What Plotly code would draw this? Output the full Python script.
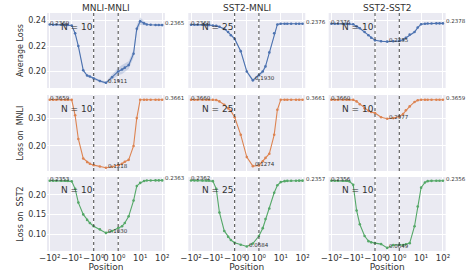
import numpy as np
import plotly.graph_objects as go

# ---------------- data ----------------
positions = [-100, -70, -50, -30, -20, -15, -10, -7, -5, -3, -2, -1.5, -1, -0.5, 0,
             0.5, 1, 1.5, 2, 3, 5, 7, 10, 15, 20, 30, 50, 70, 100]

col_titles = ["MNLI-MNLI", "SST2-MNLI", "SST2-SST2"]
row_titles = ["Average Loss", "Loss on  MNLI", "Loss on  SST2"]
n_labels = ["N = 10", "N = 25", "N = 10"]

x_tick_values = [-100, -10, -1, 0, 1, 10, 100]
x_tick_text = ["\u221210\u00b2", "\u221210\u00b9", "\u221210\u2070", "0", "10\u2070", "10\u00b9", "10\u00b2"]

avg_mnli_mnli = [0.2369, 0.2368, 0.2369, 0.2367, 0.2368, 0.2366, 0.2362, 0.2300, 0.2200, 0.2010,
                 0.1968, 0.1960, 0.1945, 0.1925, 0.1911, 0.1955, 0.2000, 0.2015, 0.2030, 0.2050,
                 0.2140, 0.2336, 0.2395, 0.2378, 0.2370, 0.2367, 0.2366, 0.2366, 0.2365]
avg_sst2_mnli = [0.2368, 0.2368, 0.2367, 0.2367, 0.2366, 0.2365, 0.2362, 0.2360, 0.2352, 0.2335,
                 0.2310, 0.2285, 0.2256, 0.2160, 0.2000, 0.1930, 0.1970, 0.2000, 0.2040, 0.2150,
                 0.2300, 0.2370, 0.2376, 0.2376, 0.2376, 0.2376, 0.2376, 0.2376, 0.2376]
avg_sst2_sst2 = [0.2376, 0.2376, 0.2375, 0.2376, 0.2375, 0.2374, 0.2372, 0.2355, 0.2340, 0.2310,
                 0.2285, 0.2265, 0.2245, 0.2238, 0.2235, 0.2238, 0.2240, 0.2250, 0.2265, 0.2290,
                 0.2310, 0.2345, 0.2372, 0.2375, 0.2377, 0.2377, 0.2378, 0.2378, 0.2378]

band_mnli_mnli = [0.0004, 0.0004, 0.0004, 0.0004, 0.0004, 0.0004, 0.0006, 0.0010, 0.0012, 0.0010,
                  0.0008, 0.0008, 0.0008, 0.0010, 0.0010, 0.0020, 0.0030, 0.0035, 0.0035, 0.0030,
                  0.0030, 0.0030, 0.0030, 0.0015, 0.0008, 0.0005, 0.0004, 0.0004, 0.0004]
band_sst2_mnli = [0.0003, 0.0003, 0.0003, 0.0003, 0.0003, 0.0003, 0.0004, 0.0005, 0.0006, 0.0006,
                  0.0006, 0.0008, 0.0008, 0.0010, 0.0010, 0.0012, 0.0015, 0.0015, 0.0015, 0.0012,
                  0.0010, 0.0008, 0.0005, 0.0004, 0.0003, 0.0003, 0.0003, 0.0003, 0.0003]
band_sst2_sst2 = [0.0003, 0.0003, 0.0003, 0.0003, 0.0003, 0.0003, 0.0004, 0.0005, 0.0005, 0.0005,
                  0.0005, 0.0005, 0.0005, 0.0005, 0.0005, 0.0005, 0.0005, 0.0005, 0.0005, 0.0005,
                  0.0005, 0.0005, 0.0004, 0.0003, 0.0003, 0.0003, 0.0003, 0.0003, 0.0003]

mnli_mnli_mnli = [0.3659, 0.3659, 0.3659, 0.3659, 0.3659, 0.3659, 0.3655, 0.3100, 0.2250, 0.1550,
                  0.1420, 0.1360, 0.1310, 0.1260, 0.1218, 0.1250, 0.1310, 0.1360, 0.1430, 0.1500,
                  0.2000, 0.3000, 0.3661, 0.3661, 0.3661, 0.3661, 0.3661, 0.3661, 0.3661]
mnli_sst2_mnli = [0.3660, 0.3660, 0.3660, 0.3660, 0.3660, 0.3659, 0.3658, 0.3650, 0.3600, 0.3480,
                  0.3350, 0.3260, 0.3030, 0.2400, 0.1600, 0.1274, 0.1300, 0.1450, 0.1570, 0.1720,
                  0.2400, 0.3300, 0.3661, 0.3661, 0.3661, 0.3661, 0.3661, 0.3661, 0.3661]
mnli_sst2_sst2 = [0.3660, 0.3660, 0.3660, 0.3660, 0.3660, 0.3659, 0.3655, 0.3600, 0.3500, 0.3350,
                  0.3260, 0.3220, 0.3180, 0.3030, 0.2977, 0.3000, 0.3060, 0.3150, 0.3280, 0.3420,
                  0.3580, 0.3640, 0.3658, 0.3659, 0.3659, 0.3659, 0.3659, 0.3659, 0.3659]

sst2_mnli_mnli = [0.2353, 0.2353, 0.2353, 0.2353, 0.2353, 0.2352, 0.2340, 0.2150, 0.1800, 0.1500,
                  0.1360, 0.1280, 0.1200, 0.1120, 0.1030, 0.1080, 0.1150, 0.1200, 0.1280, 0.1450,
                  0.1850, 0.2220, 0.2300, 0.2350, 0.2360, 0.2362, 0.2363, 0.2363, 0.2363]
sst2_sst2_mnli = [0.2362, 0.2362, 0.2362, 0.2362, 0.2361, 0.2360, 0.2345, 0.2150, 0.1550, 0.1080,
                  0.0930, 0.0850, 0.0780, 0.0730, 0.0684, 0.0760, 0.0950, 0.1150, 0.1380, 0.1650,
                  0.2050, 0.2240, 0.2320, 0.2345, 0.2352, 0.2355, 0.2356, 0.2357, 0.2357]
sst2_sst2_sst2 = [0.2356, 0.2356, 0.2356, 0.2355, 0.2354, 0.2340, 0.2250, 0.1600, 0.1250, 0.0950,
                  0.0820, 0.0790, 0.0770, 0.0745, 0.0649, 0.0720, 0.0730, 0.0720, 0.0740, 0.0770,
                  0.1200, 0.1700, 0.2180, 0.2310, 0.2345, 0.2352, 0.2355, 0.2356, 0.2356]

values = [[avg_mnli_mnli, avg_sst2_mnli, avg_sst2_sst2],
          [mnli_mnli_mnli, mnli_sst2_mnli, mnli_sst2_sst2],
          [sst2_mnli_mnli, sst2_sst2_mnli, sst2_sst2_sst2]]
bands = [band_mnli_mnli, band_sst2_mnli, band_sst2_sst2]

y_ticks = [[0.20, 0.22, 0.24], [0.20, 0.30], [0.10, 0.15, 0.20]]
y_ranges = [[0.187, 0.246], [0.110, 0.383], [0.057, 0.245]]

# ---------------- styling ----------------
W, H = 474, 273
FONT = "DejaVu Sans"
TXT = "#333333"
colors = ["#4C72B0", "#DD8452", "#55A868"]
band_color = "rgba(76,114,176,0.22)"
col_px = [(40, 161), (185, 305), (329, 449)]
row_px = [(13, 88), (95, 171), (177, 251)]


def symlog(v, linthresh=1.0, linscale=0.5):
    v = np.asarray(v, dtype=float)
    adj = linscale / (1 - 1 / 10)
    out = np.where(np.abs(v) <= linthresh, v * adj,
                   np.sign(v) * linthresh * (adj + np.log10(np.maximum(np.abs(v), 1e-12) / linthresh)))
    return out


tx = symlog(positions)
tick_tx = symlog(x_tick_values)
XR = [-2.68, 2.68]

fig = go.Figure()
layout = dict(width=W, height=H, margin=dict(l=0, r=0, t=0, b=0),
              paper_bgcolor="white", plot_bgcolor="#EAEAF2", showlegend=False,
              font=dict(family=FONT, color=TXT, size=8))
annotations = []
shapes = []

for r in range(3):
    for c in range(3):
        i = r * 3 + c + 1
        sfx = "" if i == 1 else str(i)
        xref, yref = "x" + sfx, "y" + sfx
        x0, x1 = col_px[c]
        y0, y1 = row_px[r]
        layout["xaxis" + sfx] = dict(
            domain=[x0 / W, x1 / W], anchor=yref, range=XR,
            tickvals=list(tick_tx), ticktext=x_tick_text, tickangle=0,
            showticklabels=(r == 2), ticks="", showgrid=True, gridcolor="white",
            gridwidth=1, zeroline=False, showline=False,
            tickfont=dict(size=8.5, color=TXT),
            title=dict(text="Position" if r == 2 else "", font=dict(size=9, color=TXT), standoff=1))
        layout["yaxis" + sfx] = dict(
            domain=[1 - y1 / H, 1 - y0 / H], anchor=xref, range=y_ranges[r],
            tickvals=y_ticks[r], tickformat=".2f",
            showticklabels=(c == 0), ticks="", showgrid=True, gridcolor="white",
            gridwidth=1, zeroline=False, showline=False,
            tickfont=dict(size=8, color=TXT),
            title=dict(text=row_titles[r] if c == 0 else "", font=dict(size=8, color=TXT), standoff=3))

        yv = np.array(values[r][c])
        if r == 0:
            bw = np.array(bands[c])
            fig.add_trace(go.Scatter(x=tx, y=yv - bw, xaxis=xref, yaxis=yref, mode="lines",
                                     line=dict(width=0), hoverinfo="skip"))
            fig.add_trace(go.Scatter(x=tx, y=yv + bw, xaxis=xref, yaxis=yref, mode="lines",
                                     line=dict(width=0), fill="tonexty", fillcolor=band_color,
                                     hoverinfo="skip"))
        fig.add_trace(go.Scatter(x=tx, y=yv, xaxis=xref, yaxis=yref, mode="lines+markers",
                                 line=dict(color=colors[r], width=1.1),
                                 marker=dict(size=2.6, color=colors[r])))

        # dotted lines at +/-1
        for xv in (-1, 1):
            shapes.append(dict(type="line", xref=xref, yref=yref + " domain",
                               x0=float(symlog(xv)), x1=float(symlog(xv)), y0=0, y1=1,
                               line=dict(color="#444444", width=1, dash="dot")))

        # value labels
        kmin = int(np.argmin(yv))
        for k, xs in ((0, -2), (len(yv) - 1, 1), (kmin, 0)):
            annotations.append(dict(x=float(tx[k]), y=float(yv[k]), xref=xref, yref=yref,
                                    text=f"{yv[k]:.4f}", showarrow=False, xanchor="left",
                                    yanchor="bottom", xshift=xs, yshift=-3,
                                    font=dict(size=5.5, color=TXT)))
        # N label
        annotations.append(dict(x=0.1, y=0.82, xref=xref + " domain", yref=yref + " domain",
                                text=n_labels[c], showarrow=False, xanchor="left",
                                yanchor="middle", font=dict(size=9, color=TXT)))
        if r == 0:
            annotations.append(dict(x=(x0 + x1) / 2 / W, y=1 - 8 / H, xref="paper", yref="paper",
                                    text=col_titles[c], showarrow=False, xanchor="center",
                                    yanchor="middle", font=dict(size=9, color=TXT)))

layout["annotations"] = annotations
layout["shapes"] = shapes
fig.update_layout(**layout)
fig.write_html("out.html")
